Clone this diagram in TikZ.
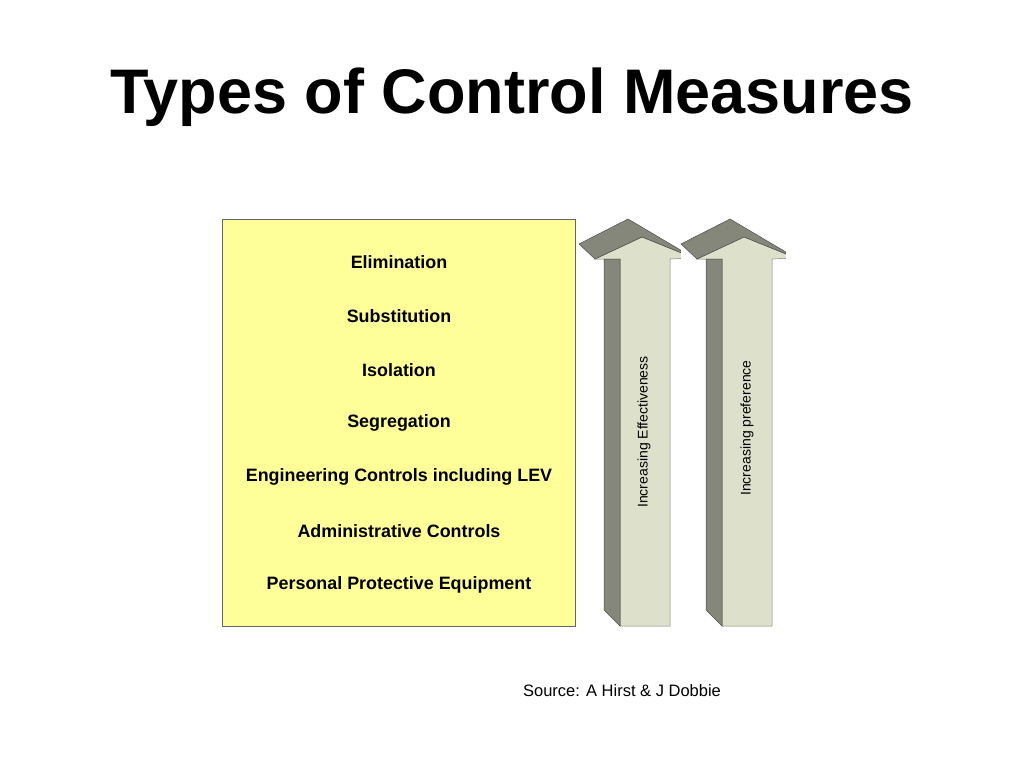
\documentclass[tikz,border=0pt]{standalone}
\usepackage{fontspec}
\setmainfont{Liberation Sans}
\definecolor{roof}{HTML}{85877A}
\definecolor{face}{HTML}{DDE0CB}
\definecolor{boxy}{HTML}{FFFF99}
\begin{document}
\begin{tikzpicture}[x=1pt,y=-1pt,
  item/.style={font=\bfseries\fontsize{17.9}{21}\selectfont},
  rot/.style={rotate=90,font=\fontsize{14}{17}\selectfont},
  dk/.style={fill=roof,draw=black!70,line width=0.5pt},
  fc/.style={fill=face,draw=black!50,line width=0.5pt}]
\useasboundingbox (0,0) rectangle (1024,768);
\node[font=\bfseries\fontsize{63}{70}\selectfont] (title) at (512,97) {Types of Control Measures};
\node[draw=black!60,fill=boxy,minimum width=353,minimum height=407,anchor=north west,inner sep=0] (box) at (222,219) {};
\foreach \t [count=\i] in {Elimination,Substitution,Isolation,Segregation,Engineering Controls including LEV,Administrative Controls,Personal Protective Equipment}
  \node[item] (i\i) at (399,{262+53.8*(\i-1)}) {\t};
\foreach \dx/\n in {0/a,102/b}{
\begin{scope}[xshift=\dx]
 \fill[white] (579,215) rectangle (697,627);
 \draw[fc] (595,259) -- (642,237) -- (694,258) -- (670,259) -- (670,626) -- (620,626) -- (620,259) -- cycle;
 \draw[dk] (604,259) -- (620,259) -- (620,626) -- (604,610) -- cycle;
 \draw[dk] (579,244) -- (628,219) -- (694,258) -- (642,237) -- (595,259) -- cycle;
\end{scope}}
\fill[white] (786,210) rectangle (800,630);
\node[rot] (l1) at (644,432) {Increasing Effectiveness};
\node[rot] (l2) at (747,428) {Increasing preference};
\node[font=\fontsize{16.5}{19}\selectfont] (src) at (622,691) {Source: A Hirst \& J Dobbie};
\end{tikzpicture}
\end{document}
